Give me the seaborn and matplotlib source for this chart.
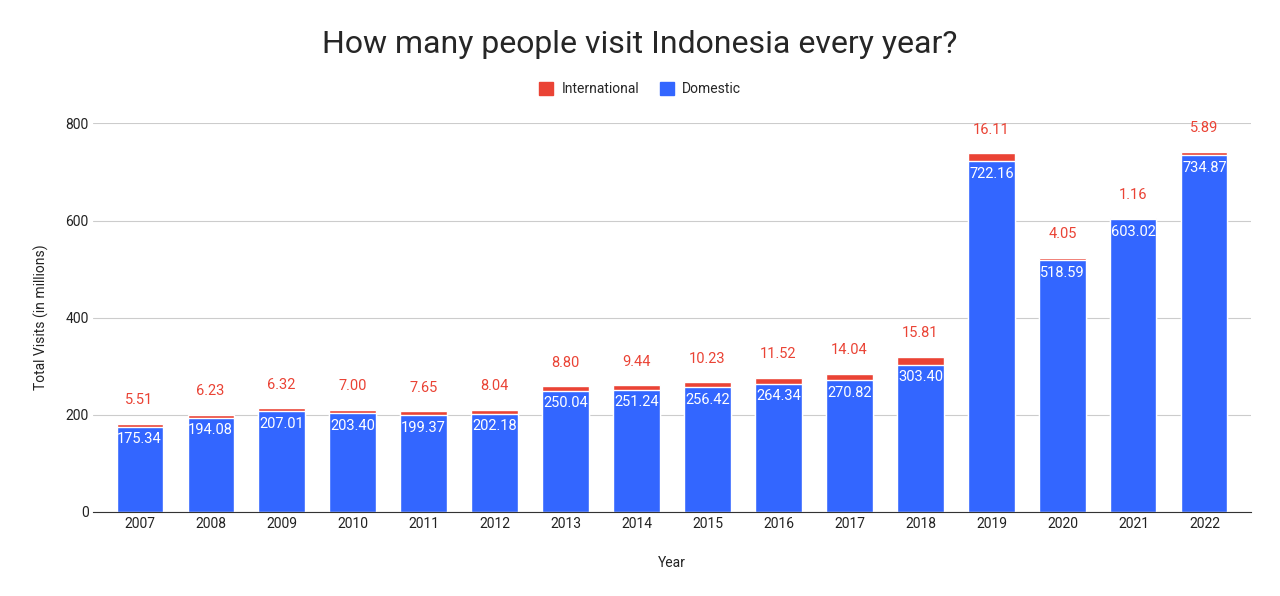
import matplotlib.pyplot as plt
import pandas as pd
import seaborn as sns

years = [str(y) for y in range(2007, 2023)]
domestic = [175.34, 194.08, 207.01, 203.40, 199.37, 202.18, 250.04, 251.24,
            256.42, 264.34, 270.82, 303.40, 722.16, 518.59, 603.02, 734.87]
international = [5.51, 6.23, 6.32, 7.00, 7.65, 8.04, 8.80, 9.44,
                 10.23, 11.52, 14.04, 15.81, 16.11, 4.05, 1.16, 5.89]

BLUE = "#3366ff"
RED = "#ea4335"

df = pd.DataFrame({"Year": years, "Domestic": domestic, "International": international})
df["Total"] = df["Domestic"] + df["International"]

sns.set_style("white")
plt.rcParams["font.family"] = ["Roboto", "DejaVu Sans"]

fig, ax = plt.subplots(figsize=(12.8, 5.96), dpi=100)
fig.subplots_adjust(left=0.073, right=0.977, top=0.793, bottom=0.141)

sns.barplot(data=df, x="Year", y="Total", color=RED, width=0.65, ax=ax, saturation=1)
sns.barplot(data=df, x="Year", y="Domestic", color=BLUE, width=0.65, ax=ax, saturation=1)

for i, row in df.iterrows():
    ax.annotate(f"{row['Domestic']:.2f}", (i, row["Domestic"]), xytext=(0, -4),
                textcoords="offset points", ha="center", va="top", color="white", fontsize=10.5)
    ax.annotate(f"{row['International']:.2f}", (i, row["Total"]), xytext=(0, 12),
                textcoords="offset points", ha="center", va="bottom", color=RED, fontsize=10.5)

ax.set_ylim(0, 800)
ax.set_yticks([0, 200, 400, 600, 800])
ax.yaxis.grid(True, color="#cccccc", linewidth=0.8)
ax.set_axisbelow(True)
ax.set_xlim(-0.65, 15.65)
for s in ["top", "right", "left"]:
    ax.spines[s].set_visible(False)
ax.spines["bottom"].set_color("#333333")
ax.tick_params(axis="both", length=0, labelsize=10, colors="#222222")
ax.set_xlabel("Year", fontsize=10, labelpad=18, color="#222222")
ax.set_ylabel("Total Visits (in millions)", fontsize=10, labelpad=12, color="#222222")

fig.suptitle("How many people visit Indonesia every year?", fontsize=23, y=0.95)
from matplotlib.patches import Patch
fig.legend(handles=[Patch(color=RED, label="International"), Patch(color=BLUE, label="Domestic")],
           loc="center", bbox_to_anchor=(0.5, 0.85), ncol=2, frameon=False, fontsize=10,
           handlelength=1, handleheight=1, columnspacing=1.5, handletextpad=0.6)

plt.savefig("out.png", dpi=100)
